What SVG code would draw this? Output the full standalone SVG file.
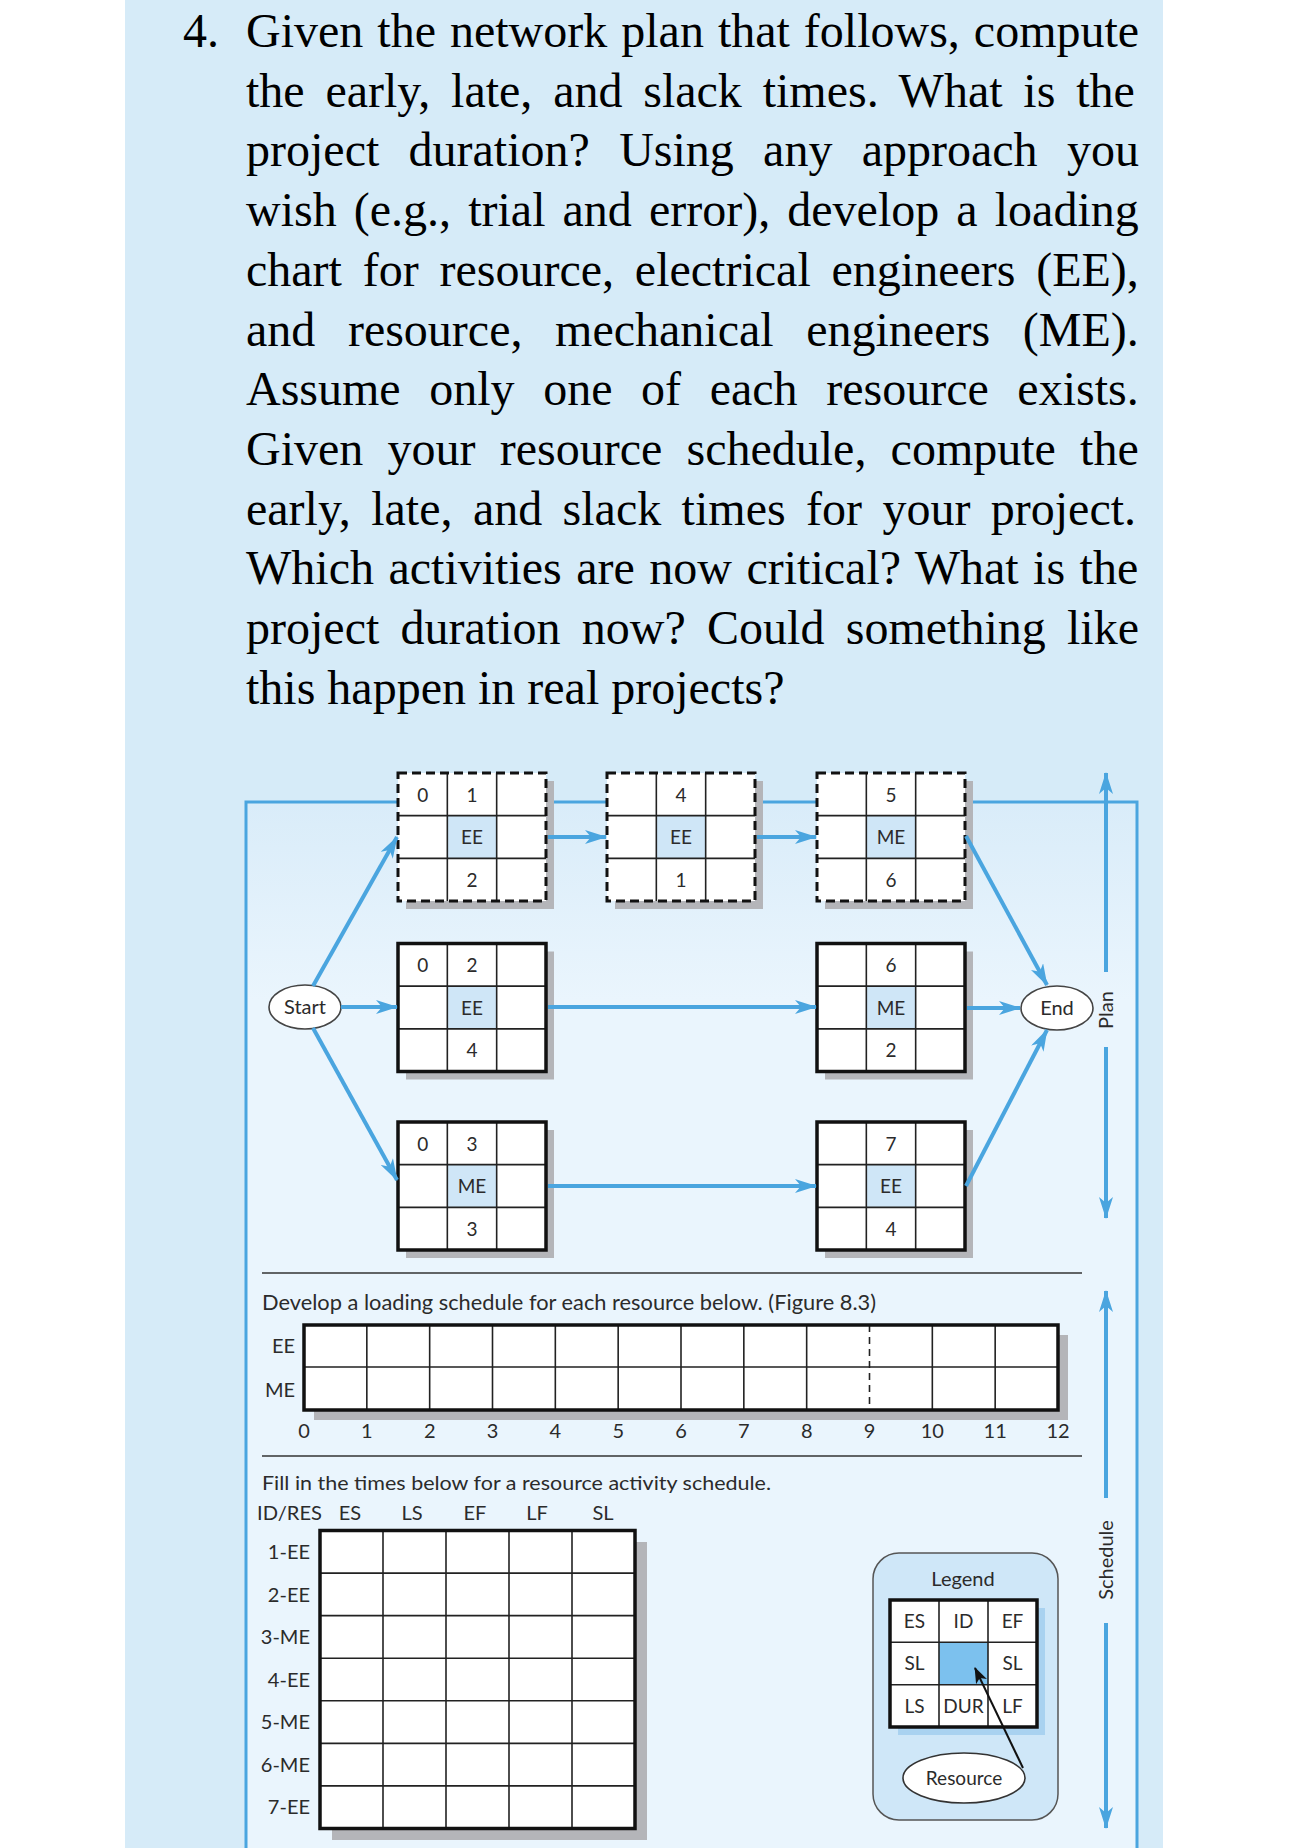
<svg xmlns="http://www.w3.org/2000/svg" width="1289" height="1848" viewBox="0 0 1289 1848">
<defs>
<style>
.q{font-family:"Liberation Serif","Times New Roman",serif;font-size:48px;fill:#000}
.t{font-family:Lato,"Open Sans","Liberation Sans",sans-serif;fill:#2b2b2b}
.c19{font-size:19px;text-anchor:middle}
.shadow{fill:#b4b5b9}
.cellbg{fill:#fff}
.res{fill:#cfe6f7}
.grid{fill:none;stroke:#222;stroke-width:1.6}
.bsolid{fill:none;stroke:#111;stroke-width:3.5}
.bdash{fill:none;stroke:#111;stroke-width:3;stroke-dasharray:9 5}
.conn{fill:none;stroke:#4aa5df;stroke-width:4}
.frame{fill:none;stroke:#4aa5df;stroke-width:3}
.rule{stroke:#333;stroke-width:1.5}
</style>
<marker id="ah" viewBox="0 0 22 14" refX="21" refY="7" markerWidth="22" markerHeight="14" markerUnits="userSpaceOnUse" orient="auto-start-reverse">
<path d="M0,0 L22,7 L0,14 L6,7 z" fill="#4aa5df"/>
</marker>
<marker id="ahk" viewBox="0 0 16 12" refX="15" refY="6" markerWidth="16" markerHeight="12" markerUnits="userSpaceOnUse" orient="auto">
<path d="M0,0 L16,6 L0,12 L4,6 z" fill="#111"/>
</marker>
<linearGradient id="inner" x1="0" y1="802" x2="0" y2="1000" gradientUnits="userSpaceOnUse">
<stop offset="0" stop-color="#d9ecf9"/>
<stop offset="1" stop-color="#eaf5fd"/>
</linearGradient>
</defs>

<rect x="0" y="0" width="1289" height="1848" fill="#fff"/>
<rect x="125" y="0" width="1038" height="1848" fill="#d6ebf8"/>

<g id="question">
<text class="q" x="183" y="47">4.</text>
<text class="q" x="246" y="47" style="word-spacing:2px">Given the network plan that follows, compute</text>
<text class="q" x="246" y="106.7" style="word-spacing:8.8px">the early, late, and slack times. What is the</text>
<text class="q" x="246" y="166.4" style="word-spacing:17.3px">project duration? Using any approach you</text>
<text class="q" x="246" y="226.1" style="word-spacing:5.1px">wish (e.g., trial and error), develop a loading</text>
<text class="q" x="246" y="285.8" style="word-spacing:8.8px">chart for resource, electrical engineers (EE),</text>
<text class="q" x="246" y="345.5" style="word-spacing:20.6px">and resource, mechanical engineers (ME).</text>
<text class="q" x="246" y="405.2" style="word-spacing:16.6px">Assume only one of each resource exists.</text>
<text class="q" x="246" y="464.9" style="word-spacing:12.2px">Given your resource schedule, compute the</text>
<text class="q" x="246" y="524.6" style="word-spacing:8.4px">early, late, and slack times for your project.</text>
<text class="q" x="246" y="584.3" style="word-spacing:2.5px">Which activities are now critical? What is the</text>
<text class="q" x="246" y="644" style="word-spacing:9.3px">project duration now? Could something like</text>
<text class="q" x="246" y="703.7">this happen in real projects?</text>
</g>

<g id="frame">
<rect x="246" y="802" width="891" height="1046" fill="url(#inner)"/>
<path class="frame" d="M246,1848 V802 H1137 V1848"/>
</g>

<g id="node-1" transform="translate(398,773)">
<rect class="shadow" x="8" y="8" width="148" height="128"/>
<rect class="cellbg" x="0" y="0" width="148" height="128"/>
<rect class="res" x="49.33" y="42.67" width="49.33" height="42.67"/>
<path class="grid" d="M49.33,0V128M98.67,0V128M0,42.67H148M0,85.33H148"/>
<rect class="bdash" x="0" y="0" width="148" height="128"/>
<text class="t c19" x="24.7" y="28.5">0</text>
<text class="t c19" x="74" y="28.5">1</text>
<text class="t c19" x="74" y="71">EE</text>
<text class="t c19" x="74" y="113.5">2</text>
</g>

<g id="node-4" transform="translate(607,773)">
<rect class="shadow" x="8" y="8" width="148" height="128"/>
<rect class="cellbg" x="0" y="0" width="148" height="128"/>
<rect class="res" x="49.33" y="42.67" width="49.33" height="42.67"/>
<path class="grid" d="M49.33,0V128M98.67,0V128M0,42.67H148M0,85.33H148"/>
<rect class="bdash" x="0" y="0" width="148" height="128"/>
<text class="t c19" x="74" y="28.5">4</text>
<text class="t c19" x="74" y="71">EE</text>
<text class="t c19" x="74" y="113.5">1</text>
</g>

<g id="node-5" transform="translate(817,773)">
<rect class="shadow" x="8" y="8" width="148" height="128"/>
<rect class="cellbg" x="0" y="0" width="148" height="128"/>
<rect class="res" x="49.33" y="42.67" width="49.33" height="42.67"/>
<path class="grid" d="M49.33,0V128M98.67,0V128M0,42.67H148M0,85.33H148"/>
<rect class="bdash" x="0" y="0" width="148" height="128"/>
<text class="t c19" x="74" y="28.5">5</text>
<text class="t c19" x="74" y="71">ME</text>
<text class="t c19" x="74" y="113.5">6</text>
</g>

<g id="node-2" transform="translate(398,943.5)">
<rect class="shadow" x="8" y="8" width="148" height="128"/>
<rect class="cellbg" x="0" y="0" width="148" height="128"/>
<rect class="res" x="49.33" y="42.67" width="49.33" height="42.67"/>
<path class="grid" d="M49.33,0V128M98.67,0V128M0,42.67H148M0,85.33H148"/>
<rect class="bsolid" x="0" y="0" width="148" height="128"/>
<text class="t c19" x="24.7" y="28.5">0</text>
<text class="t c19" x="74" y="28.5">2</text>
<text class="t c19" x="74" y="71">EE</text>
<text class="t c19" x="74" y="113.5">4</text>
</g>

<g id="node-6" transform="translate(817,943.5)">
<rect class="shadow" x="8" y="8" width="148" height="128"/>
<rect class="cellbg" x="0" y="0" width="148" height="128"/>
<rect class="res" x="49.33" y="42.67" width="49.33" height="42.67"/>
<path class="grid" d="M49.33,0V128M98.67,0V128M0,42.67H148M0,85.33H148"/>
<rect class="bsolid" x="0" y="0" width="148" height="128"/>
<text class="t c19" x="74" y="28.5">6</text>
<text class="t c19" x="74" y="71">ME</text>
<text class="t c19" x="74" y="113.5">2</text>
</g>

<g id="node-3" transform="translate(398,1122)">
<rect class="shadow" x="8" y="8" width="148" height="128"/>
<rect class="cellbg" x="0" y="0" width="148" height="128"/>
<rect class="res" x="49.33" y="42.67" width="49.33" height="42.67"/>
<path class="grid" d="M49.33,0V128M98.67,0V128M0,42.67H148M0,85.33H148"/>
<rect class="bsolid" x="0" y="0" width="148" height="128"/>
<text class="t c19" x="24.7" y="28.5">0</text>
<text class="t c19" x="74" y="28.5">3</text>
<text class="t c19" x="74" y="71">ME</text>
<text class="t c19" x="74" y="113.5">3</text>
</g>

<g id="node-7" transform="translate(817,1122)">
<rect class="shadow" x="8" y="8" width="148" height="128"/>
<rect class="cellbg" x="0" y="0" width="148" height="128"/>
<rect class="res" x="49.33" y="42.67" width="49.33" height="42.67"/>
<path class="grid" d="M49.33,0V128M98.67,0V128M0,42.67H148M0,85.33H148"/>
<rect class="bsolid" x="0" y="0" width="148" height="128"/>
<text class="t c19" x="74" y="28.5">7</text>
<text class="t c19" x="74" y="71">EE</text>
<text class="t c19" x="74" y="113.5">4</text>
</g>

<g id="start">
<ellipse cx="305" cy="1007" rx="36" ry="22" fill="#fff" stroke="#444" stroke-width="1.6"/>
<text class="t" x="305" y="1014" font-size="20" text-anchor="middle">Start</text>
</g>

<g id="end">
<ellipse cx="1057" cy="1008" rx="36" ry="22" fill="#fff" stroke="#444" stroke-width="1.6"/>
<text class="t" x="1057" y="1015" font-size="20" text-anchor="middle">End</text>
</g>

<g id="connectors">
<line class="conn" x1="313" y1="986" x2="397" y2="837" marker-end="url(#ah)"/>
<line class="conn" x1="341" y1="1007" x2="397" y2="1007" marker-end="url(#ah)"/>
<line class="conn" x1="313" y1="1028" x2="397" y2="1180" marker-end="url(#ah)"/>
<line class="conn" x1="548" y1="837" x2="606" y2="837" marker-end="url(#ah)"/>
<line class="conn" x1="757" y1="837" x2="816" y2="837" marker-end="url(#ah)"/>
<line class="conn" x1="548" y1="1007" x2="816" y2="1007" marker-end="url(#ah)"/>
<line class="conn" x1="548" y1="1186" x2="816" y2="1186" marker-end="url(#ah)"/>
<line class="conn" x1="966" y1="836" x2="1047" y2="985" marker-end="url(#ah)"/>
<line class="conn" x1="967" y1="1008" x2="1020" y2="1008" marker-end="url(#ah)"/>
<line class="conn" x1="966" y1="1186" x2="1047" y2="1030" marker-end="url(#ah)"/>
</g>

<g id="plan-arrow">
<line class="conn" x1="1106" y1="972" x2="1106" y2="773" marker-end="url(#ah)"/>
<line class="conn" x1="1106" y1="1047" x2="1106" y2="1218" marker-end="url(#ah)"/>
<text class="t" x="0" y="0" font-size="20" text-anchor="middle" transform="translate(1113,1010) rotate(-90)">Plan</text>
</g>

<g id="schedule-arrow">
<line class="conn" x1="1106" y1="1498" x2="1106" y2="1291" marker-end="url(#ah)"/>
<line class="conn" x1="1106" y1="1623" x2="1106" y2="1828" marker-end="url(#ah)"/>
<text class="t" x="0" y="0" font-size="20" text-anchor="middle" transform="translate(1113,1560) rotate(-90)">Schedule</text>
</g>

<g id="loading-section">
<line class="rule" x1="262" y1="1273" x2="1082" y2="1273"/>
<text class="t" x="262" y="1310" font-size="21" textLength="614" lengthAdjust="spacingAndGlyphs">Develop a loading schedule for each resource below. (Figure 8.3)</text>
<rect class="shadow" x="314" y="1335" width="754" height="85"/>
<rect class="cellbg" x="304" y="1325" width="754" height="85"/>
<path class="grid" d="M366.83,1325V1410M429.67,1325V1410M492.5,1325V1410M555.33,1325V1410M618.17,1325V1410M681,1325V1410M743.83,1325V1410M806.67,1325V1410M932.33,1325V1410M995.17,1325V1410M304,1367H1058"/>
<path class="grid" d="M869.5,1325V1410" stroke-dasharray="7 5"/>
<rect class="bsolid" x="304" y="1325" width="754" height="85"/>
<text class="t" x="295" y="1353" font-size="20" text-anchor="end">EE</text>
<text class="t" x="295" y="1397" font-size="20" text-anchor="end">ME</text>
<g class="t" font-size="20" text-anchor="middle">
<text x="304" y="1438">0</text>
<text x="366.8" y="1438">1</text>
<text x="429.7" y="1438">2</text>
<text x="492.5" y="1438">3</text>
<text x="555.3" y="1438">4</text>
<text x="618.2" y="1438">5</text>
<text x="681" y="1438">6</text>
<text x="743.8" y="1438">7</text>
<text x="806.7" y="1438">8</text>
<text x="869.5" y="1438">9</text>
<text x="932.3" y="1438">10</text>
<text x="995.2" y="1438">11</text>
<text x="1058" y="1438">12</text>
</g>
<line class="rule" x1="262" y1="1456" x2="1082" y2="1456"/>
</g>

<g id="activity-table">
<text class="t" x="262" y="1490" font-size="20" textLength="509" lengthAdjust="spacingAndGlyphs">Fill in the times below for a resource activity schedule.</text>
<text class="t" x="257" y="1520" font-size="20" textLength="65" lengthAdjust="spacingAndGlyphs">ID/RES</text>
<g class="t" font-size="20" text-anchor="middle">
<text x="350" y="1520">ES</text>
<text x="412" y="1520">LS</text>
<text x="475" y="1520">EF</text>
<text x="537" y="1520">LF</text>
<text x="603" y="1520">SL</text>
</g>
<rect class="shadow" x="332" y="1542" width="315" height="298"/>
<rect class="cellbg" x="320" y="1530.5" width="315" height="298"/>
<path class="grid" d="M383,1530.5V1828.5M446,1530.5V1828.5M509,1530.5V1828.5M572,1530.5V1828.5M320,1573.1H635M320,1615.6H635M320,1658.2H635M320,1700.8H635M320,1743.4H635M320,1785.9H635"/>
<rect class="bsolid" x="320" y="1530.5" width="315" height="298"/>
<g class="t" font-size="20" text-anchor="end">
<text x="310" y="1559">1-EE</text>
<text x="310" y="1601.5">2-EE</text>
<text x="310" y="1644">3-ME</text>
<text x="310" y="1686.5">4-EE</text>
<text x="310" y="1729">5-ME</text>
<text x="310" y="1771.5">6-ME</text>
<text x="310" y="1814">7-EE</text>
</g>
</g>

<g id="legend">
<rect x="873" y="1553" width="185" height="267" rx="26" fill="#cfe7f8" stroke="#555" stroke-width="1.5"/>
<text class="t" x="963" y="1586" font-size="20" text-anchor="middle">Legend</text>
<rect x="898" y="1608" width="147" height="127" fill="#a9d2f0"/>
<rect class="cellbg" x="890" y="1600" width="147" height="127"/>
<rect x="939" y="1642.3" width="49" height="42.3" fill="#7cc1ee"/>
<path class="grid" d="M939,1600V1727M988,1600V1727M890,1642.3H1037M890,1684.7H1037"/>
<rect class="bsolid" x="890" y="1600" width="147" height="127"/>
<g class="t c19">
<text x="914.5" y="1628">ES</text>
<text x="963.5" y="1628">ID</text>
<text x="1012.5" y="1628">EF</text>
<text x="914.5" y="1670">SL</text>
<text x="1012.5" y="1670">SL</text>
<text x="914.5" y="1713">LS</text>
<text x="963.5" y="1713">DUR</text>
<text x="1012.5" y="1713">LF</text>
</g>
<ellipse cx="964" cy="1778" rx="61" ry="25" fill="#fff" stroke="#333" stroke-width="1.6"/>
<text class="t c19" x="964" y="1785">Resource</text>
<line x1="1023" y1="1768" x2="975" y2="1668" stroke="#111" stroke-width="2" marker-end="url(#ahk)"/>
</g>
</svg>
